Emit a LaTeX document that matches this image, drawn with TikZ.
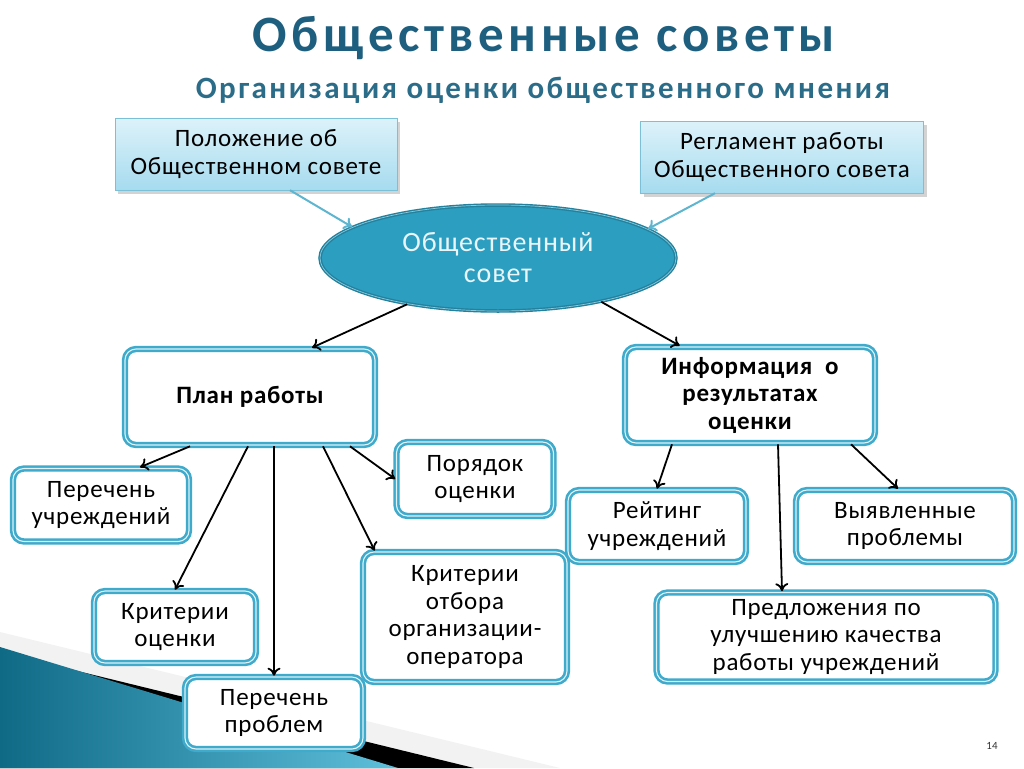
\documentclass[tikz,border=0pt]{standalone}
\usepackage{fontspec}
\setmainfont{Carlito}[LetterSpace=3]
\newfontfamily\titlefont{Carlito}[LetterSpace=9]
\newfontfamily\subtitlefont{Carlito}[LetterSpace=8]
\usetikzlibrary{shapes.geometric,arrows.meta,shadows,calc}

\definecolor{titleblue}{HTML}{1E5F7F}
\definecolor{subblue}{HTML}{2B6C88}
\definecolor{frameblue}{HTML}{3FAACB}
\definecolor{frameinner}{HTML}{DDF3F8}
\definecolor{ovalfill}{HTML}{2C9EC0}
\definecolor{ovalline}{HTML}{23819E}
\definecolor{docline}{HTML}{7CC0D8}
\definecolor{doctop}{HTML}{DDF2FA}
\definecolor{docbottom}{HTML}{A6DBEF}
\definecolor{tealarrow}{HTML}{5DB5CF}
\definecolor{wedgedark}{HTML}{0F6A86}
\definecolor{wedgelight}{HTML}{5FC0DC}

\begin{document}
\begin{tikzpicture}[
    x=1pt, y=-1pt,
    box/.style={
        rectangle,
        fill=white,
        rounded corners=11pt,
        draw=frameblue,
        line width=2.6pt,
        double=frameinner,
        double distance=1.1pt,
        align=center,
        font=\fontsize{25}{27.5}\selectfont
    },
    mainbox/.style={
        box,
        font=\fontsize{25}{27.5}\selectfont\bfseries
    },
    docbox/.style={
        rectangle,
        draw=docline,
        thin,
        top color=doctop,
        bottom color=docbottom,
        drop shadow={opacity=0.35, shadow xshift=3pt, shadow yshift=-4pt},
        align=center,
        font=\fontsize{25}{28}\selectfont
    },
    oval/.style={
        ellipse,
        fill=ovalfill,
        draw=ovalline,
        line width=1.4pt,
        double=ovalfill!55!white,
        double distance=0.7pt,
        text=white!90!ovalfill,
        minimum width=356pt,
        minimum height=106pt,
        inner sep=0pt,
        align=center,
        font=\fontsize{28}{31}\selectfont
    },
    arrow/.style={
        -{To[length=8pt,width=13pt]},
        line width=1.8pt,
        black
    },
    docarrow/.style={
        arrow,
        tealarrow,
        line width=2pt
    }
]

\useasboundingbox (0,0) rectangle (1024,768);

% --- Corner decoration ---
\fill[gray!10] (0,632) -- (560,768) -- (0,768) -- cycle;
\fill[black] (0,652) -- (474,768) -- (0,768) -- cycle;
\shade[left color=wedgedark, right color=wedgelight] (0,647) -- (398,768) -- (0,768) -- cycle;

% --- Titles ---
\node[font=\fontsize{51}{54}\selectfont\titlefont\bfseries, text=titleblue] (title) at (544,38) {Общественные советы};
\node[font=\fontsize{31}{33}\selectfont\subtitlefont\bfseries, text=subblue] (subtitle) at (543,90) {Организация оценки общественного мнения};

% --- Documents and council ---
\node[docbox, minimum width=282pt, minimum height=72pt] (polozh) at (256,154) {Положение об\\Общественном совете};
\node[docbox, minimum width=283pt, minimum height=72pt] (reglam) at (782,157) {Регламент работы\\Общественного совета};
\node[oval] (sovet) at (498,258) {Общественный\\совет};

\draw[docarrow] ([xshift=34pt]polozh.south) -- (sovet.168);
\draw[docarrow] ([xshift=-67pt]reglam.south) -- (sovet.11);

% --- Work plan branch ---
\node[mainbox, minimum width=250pt, minimum height=96pt] (plan) at (250,397) {План работы};
\node[box, minimum width=176pt, minimum height=73pt] (uchr) at (101,505) {Перечень\\учреждений};
\node[box, minimum width=162pt, minimum height=72pt] (krit) at (175,627) {Критерии\\оценки};
\node[box, minimum width=178pt, minimum height=72pt] (probl) at (274,713) {Перечень\\проблем};
\node[box, minimum width=157pt, minimum height=74pt] (poryad) at (475,479) {Порядок\\оценки};
\node[box, minimum width=204pt, minimum height=130pt] (otbor) at (465,617) {Критерии\\отбора\\организации-\\оператора};

\draw[arrow] (sovet.207) -- ([xshift=62pt]plan.north);
\draw[arrow] ([xshift=-60pt]plan.south) -- ([xshift=39pt]uchr.north);
\draw[arrow] ([xshift=-2pt]plan.south) -- (krit.north);
\draw[arrow] ([xshift=24pt]plan.south) -- (probl.north);
\draw[arrow] ([xshift=73pt]plan.south) -- ([xshift=13pt]otbor.north west);
\draw[arrow] ([xshift=100pt]plan.south) -- (poryad.west);

% --- Results branch ---
\node[mainbox, minimum width=250pt, minimum height=96pt] (info) at (750,395) {Информация~~о\\результатах\\оценки};
\node[box, minimum width=178pt, minimum height=72pt] (reit) at (657,526) {Рейтинг\\учреждений};
\node[box, minimum width=218pt, minimum height=72pt] (vyyavl) at (905,526) {Выявленные\\проблемы};
\node[box, minimum width=339pt, minimum height=89pt] (predl) at (826,637) {Предложения по\\улучшению качества\\работы учреждений};

\draw[arrow] (sovet.337) -- ([xshift=56pt]info.north west);
\draw[arrow] ([xshift=-78pt]info.south) -- (reit.north);
\draw[arrow] ([xshift=28pt]info.south) -- ([xshift=-44pt]predl.north);
\draw[arrow] ([xshift=101pt]info.south) -- ([xshift=-7pt]vyyavl.north);

% --- Page number ---
\node[font=\fontsize{11}{12}\selectfont, text=black!80] (pagenum) at (992,746) {14};

\end{tikzpicture}
\end{document}
